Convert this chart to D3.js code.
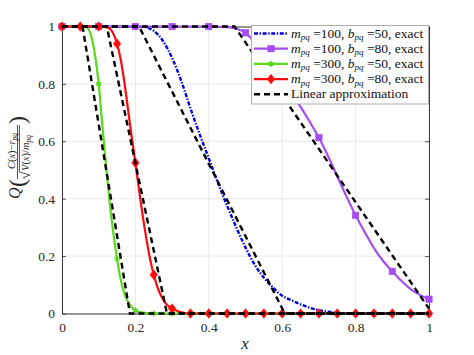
<!DOCTYPE html>
<html><head><meta charset="utf-8">
<script src="https://cdn.jsdelivr.net/npm/d3@7"></script>
<style>body{margin:0;background:#fff} svg{display:block}</style>
</head><body><svg id="c" width="474" height="355"></svg>
<script>
// ---------- data ----------
const tickValues = [0, 0.2, 0.4, 0.6, 0.8, 1];
const tickLabels = ["0", "0.2", "0.4", "0.6", "0.8", "1"];

// m_pq = 100, b_pq = 50 (exact)
const blueX = [0, 0.1, 0.2, 0.225, 0.25, 0.275, 0.3, 0.325, 0.35, 0.375, 0.4, 0.425, 0.45, 0.475, 0.5, 0.525, 0.55, 0.575, 0.6, 0.625, 0.65, 0.675, 0.7, 0.725, 0.75, 0.8, 0.9, 1];
const blueY = [1, 1, 1, 0.998, 0.985, 0.95, 0.89, 0.81, 0.715, 0.625, 0.54, 0.455, 0.375, 0.30, 0.23, 0.17, 0.125, 0.09, 0.062, 0.046, 0.032, 0.02, 0.012, 0.006, 0.002, 0, 0, 0];

// m_pq = 100, b_pq = 80 (exact)
const purpleX = [0, 0.1, 0.2, 0.3, 0.4, 0.45, 0.475, 0.5, 0.525, 0.55, 0.575, 0.6, 0.625, 0.65, 0.675, 0.7, 0.725, 0.75, 0.775, 0.8, 0.825, 0.85, 0.875, 0.9, 0.925, 0.95, 0.975, 1];
const purpleY = [1, 1, 1, 1, 1, 0.998, 0.992, 0.978, 0.945, 0.905, 0.86, 0.815, 0.768, 0.72, 0.668, 0.613, 0.548, 0.478, 0.408, 0.342, 0.283, 0.228, 0.183, 0.147, 0.113, 0.085, 0.065, 0.05];

// m_pq = 300, b_pq = 50 (exact)
const greenX = [0, 0.05, 0.07, 0.08, 0.09, 0.1, 0.11, 0.12, 0.13, 0.14, 0.15, 0.16, 0.17, 0.18, 0.19, 0.2, 0.22, 0.25, 0.3, 0.35, 0.4, 0.45, 0.5, 0.55, 0.6, 0.65, 0.7, 0.75, 0.8, 0.85, 0.9, 0.95, 1];
const greenY = [1, 1, 0.995, 0.965, 0.9, 0.8, 0.655, 0.515, 0.385, 0.28, 0.19, 0.118, 0.07, 0.04, 0.022, 0.011, 0.003, 0, 0, 0, 0, 0, 0, 0, 0, 0, 0, 0, 0, 0, 0, 0, 0];

// m_pq = 300, b_pq = 80 (exact)
const redX = [0, 0.05, 0.1, 0.12, 0.13, 0.14, 0.15, 0.16, 0.17, 0.18, 0.19, 0.2, 0.21, 0.22, 0.23, 0.24, 0.25, 0.26, 0.27, 0.28, 0.29, 0.3, 0.32, 0.35, 0.4, 0.45, 0.5, 0.55, 0.6, 0.65, 0.7, 0.75, 0.8, 0.85, 0.9, 0.95, 1];
const redY = [1, 1, 1, 0.998, 0.993, 0.975, 0.94, 0.885, 0.805, 0.71, 0.615, 0.525, 0.43, 0.34, 0.26, 0.19, 0.135, 0.092, 0.062, 0.04, 0.026, 0.017, 0.006, 0, 0, 0, 0, 0, 0, 0, 0, 0, 0, 0, 0, 0, 0];

// Linear approximations
const approxGreenX = [0, 0.056, 0.185, 1];
const approxGreenY = [1, 1, 0, 0];
const approxRedX = [0, 0.122, 0.286, 1];
const approxRedY = [1, 1, 0, 0];
const approxBlueX = [0, 0.21, 0.607, 1];
const approxBlueY = [1, 1, 0, 0];
const approxPurpleX = [0, 0.47, 1];
const approxPurpleY = [1, 1, 0.017];

// ---------- drawing ----------
const FONT = '"Liberation Serif", "Times New Roman"';
const svg = d3.select("#c").style("font-family", FONT);
const L = 62, R = 429, T = 26.5, B = 313.5;
const x = d3.scaleLinear().domain([0, 1]).range([L, R]);
const y = d3.scaleLinear().domain([0, 1]).range([B, T]);
const axisColor = "#262626";

// grid
const grid = svg.append("g");
tickValues.forEach(v => {
  grid.append("line").attr("x1", x(v)).attr("x2", x(v)).attr("y1", T).attr("y2", B)
    .attr("stroke", "#e3e3e3").attr("stroke-width", 0.8);
  grid.append("line").attr("y1", y(v)).attr("y2", y(v)).attr("x1", L).attr("x2", R)
    .attr("stroke", "#e3e3e3").attr("stroke-width", 0.8);
});

// axes via d3 axis (ticks inward)
const fmt = (d, i) => tickLabels[i];
const xAxis = svg.append("g").attr("transform", `translate(0,${B})`)
  .call(d3.axisBottom(x).tickValues(tickValues).tickFormat(fmt).tickSizeInner(-4).tickSizeOuter(0).tickPadding(9));
const yAxis = svg.append("g").attr("transform", `translate(${L},0)`)
  .call(d3.axisLeft(y).tickValues(tickValues).tickFormat(fmt).tickSizeInner(-4).tickSizeOuter(0).tickPadding(7));
const xTop = svg.append("g").attr("transform", `translate(0,${T})`)
  .call(d3.axisTop(x).tickValues(tickValues).tickFormat("").tickSizeInner(-4).tickSizeOuter(0));
const yRight = svg.append("g").attr("transform", `translate(${R},0)`)
  .call(d3.axisRight(y).tickValues(tickValues).tickFormat("").tickSizeInner(-4).tickSizeOuter(0));
[xAxis, yAxis, xTop, yRight].forEach(g => {
  g.attr("font-family", null).style("font-family", FONT);
  g.selectAll("path.domain").attr("stroke", axisColor).attr("stroke-width", 0.9);
  g.selectAll(".tick line").attr("stroke", axisColor).attr("stroke-width", 0.8);
  g.selectAll("text").style("font-family", FONT).attr("font-size", 13.5).attr("fill", axisColor);
});

const line = d3.line().x(d => x(d[0])).y(d => y(d[1])).curve(d3.curveMonotoneX);
const lineLin = d3.line().x(d => x(d[0])).y(d => y(d[1]));
const zip = (a, b) => a.map((v, i) => [v, b[i]]);

const blueDash = "4,1.6,1.4,1.6";
const blueColor = "#0000e0";
const series = [
  {xs: blueX, ys: blueY, color: blueColor, dash: blueDash, marker: null, step: 0},
  {xs: purpleX, ys: purpleY, color: "#a64cf2", dash: null, marker: "square", step: 0.1},
  {xs: greenX, ys: greenY, color: "#58d91c", dash: null, marker: "star", step: 0.05},
  {xs: redX, ys: redY, color: "#ff0a0a", dash: null, marker: "diamond", step: 0.05}
];
const approx = [
  [approxGreenX, approxGreenY], [approxRedX, approxRedY],
  [approxBlueX, approxBlueY], [approxPurpleX, approxPurpleY]
];

const plot = svg.append("g");
function drawMarker(g, type, cx, cy, color) {
  if (type === "square") {
    g.append("rect").attr("x", cx - 3.2).attr("y", cy - 3.2).attr("width", 6.4).attr("height", 6.4)
      .attr("fill", color).attr("stroke", color).attr("stroke-width", 0.6);
  } else if (type === "diamond") {
    g.append("path").attr("d", `M${cx},${cy - 4.8}L${cx + 3.8},${cy}L${cx},${cy + 4.8}L${cx - 3.8},${cy}Z`)
      .attr("fill", color).attr("stroke", color).attr("stroke-width", 0.6);
  } else if (type === "star") {
    g.append("path").attr("transform", `translate(${cx},${cy})`)
      .attr("d", d3.symbol().type(d3.symbolAsterisk).size(26)())
      .attr("fill", "none").attr("stroke", color).attr("stroke-width", 1.4);
  }
}
series.forEach(s => {
  const p = plot.append("path").datum(zip(s.xs, s.ys)).attr("d", line)
    .attr("fill", "none").attr("stroke", s.color).attr("stroke-width", s.dash ? 2.4 : 2.2);
  if (s.dash) p.attr("stroke-dasharray", s.dash);
  if (s.marker) {
    const mg = plot.append("g");
    s.xs.forEach((xv, i) => {
      const k = xv / s.step;
      if (Math.abs(k - Math.round(k)) < 1e-6) drawMarker(mg, s.marker, x(xv), y(s.ys[i]), s.color);
    });
  }
});
approx.forEach(a => {
  plot.append("path").datum(zip(a[0], a[1])).attr("d", lineLin)
    .attr("fill", "none").attr("stroke", "#000").attr("stroke-width", 2.4)
    .attr("stroke-dasharray", "6,4");
});

// x label
svg.append("text").attr("x", 245).attr("y", 349).attr("text-anchor", "middle")
  .style("font-family", FONT).attr("font-style", "italic").attr("font-size", 17)
  .attr("fill", axisColor).text("x");

// y label: Q( (C(x)-r_pq) / sqrt(V(x)/m_pq) )
const yl = svg.append("g").attr("transform", "translate(20,157) rotate(-90)")
  .style("font-family", FONT).attr("fill", axisColor);
yl.append("text").attr("x", -42).attr("y", 0).attr("font-style", "italic").attr("font-size", 16).text("Q");
yl.append("text").attr("x", -30).attr("y", 5).attr("font-size", 24).text("(");
const num = yl.append("text").attr("x", 6).attr("y", -5.5).attr("text-anchor", "middle").attr("font-size", 10.5);
num.append("tspan").attr("font-style", "italic").text("C");
num.append("tspan").text("(");
num.append("tspan").attr("font-style", "italic").text("x");
num.append("tspan").text(")\u2212");
num.append("tspan").attr("font-style", "italic").text("r");
num.append("tspan").attr("font-style", "italic").attr("font-size", 7.5).attr("dy", 2).text("pq");
yl.append("line").attr("x1", -22).attr("x2", 32).attr("y1", -2.5).attr("y2", -2.5)
  .attr("stroke", axisColor).attr("stroke-width", 0.8);
yl.append("path").attr("d", "M-22,4.5 L-20.5,3.5 L-18,10 L-15,-0.6 L32,-0.6")
  .attr("fill", "none").attr("stroke", axisColor).attr("stroke-width", 0.8);
const den = yl.append("text").attr("x", -14).attr("y", 8.5).attr("font-size", 10.5);
den.append("tspan").attr("font-style", "italic").text("V");
den.append("tspan").text("(");
den.append("tspan").attr("font-style", "italic").text("x");
den.append("tspan").text(")/");
den.append("tspan").attr("font-style", "italic").text("m");
den.append("tspan").attr("font-style", "italic").attr("font-size", 7.5).attr("dy", 2).text("pq");
yl.append("text").attr("x", 33).attr("y", 5).attr("font-size", 24).text(")");

// legend
const legendEntries = [
  {m: "100", b: "50", color: blueColor, dash: blueDash, marker: null},
  {m: "100", b: "80", color: "#a64cf2", dash: null, marker: "square"},
  {m: "300", b: "50", color: "#58d91c", dash: null, marker: "star"},
  {m: "300", b: "80", color: "#ff0a0a", dash: null, marker: "diamond"}
];
const lg = svg.append("g").style("font-family", FONT);
lg.append("rect").attr("x", 251.5).attr("y", 25.5).attr("width", 177).attr("height", 78.5)
  .attr("fill", "#fff").attr("stroke", "#a6a6a6").attr("stroke-width", 0.9);
const rowY = i => 33.5 + i * 15.2;
legendEntries.forEach((e, i) => {
  const yy = rowY(i);
  const l = lg.append("line").attr("x1", 254).attr("x2", 288).attr("y1", yy).attr("y2", yy)
    .attr("stroke", e.color).attr("stroke-width", e.dash ? 2.4 : 2.2);
  if (e.dash) l.attr("stroke-dasharray", e.dash);
  if (e.marker) drawMarker(lg, e.marker, 271, yy, e.color);
  const t = lg.append("text").attr("x", 291).attr("y", yy + 4).style("font-family", FONT)
    .attr("font-size", 13.5).attr("fill", "#111");
  t.append("tspan").attr("font-style", "italic").text("m");
  t.append("tspan").attr("font-style", "italic").attr("font-size", 9).attr("dy", 2.5).text("pq");
  t.append("tspan").attr("dy", -2.5).text(" =" + e.m + ", ");
  t.append("tspan").attr("font-style", "italic").text("b");
  t.append("tspan").attr("font-style", "italic").attr("font-size", 9).attr("dy", 2.5).text("pq");
  t.append("tspan").attr("dy", -2.5).text(" =" + e.b + ", exact");
});
{
  const yy = rowY(4);
  lg.append("line").attr("x1", 254).attr("x2", 288).attr("y1", yy).attr("y2", yy)
    .attr("stroke", "#000").attr("stroke-width", 2.4).attr("stroke-dasharray", "6,4");
  lg.append("text").attr("x", 291).attr("y", yy + 4).style("font-family", FONT)
    .attr("font-size", 13.5).attr("fill", "#111").text("Linear approximation");
}
</script>
</body></html>
